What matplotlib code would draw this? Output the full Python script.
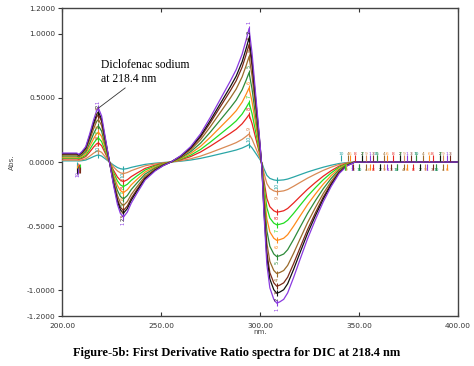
import numpy as np
import matplotlib
matplotlib.use("Agg")
import matplotlib.pyplot as plt
from matplotlib.ticker import FormatStrFormatter

# Base shape of the largest (purple) spectrum
wavelength = [200, 207.5, 208.5, 210, 212, 214, 216, 217.5, 218.4, 220, 222, 224,
              226, 228, 229.5, 231, 233, 235, 238, 242, 247, 251, 255,
              260, 265, 270, 275, 280, 285, 288, 291, 293, 294.5,
              296, 298, 300, 301, 302, 303.5, 305, 307, 308.5,
              310, 312, 314, 317, 320, 324, 328, 332, 336, 340, 344, 348, 360, 380, 400]
base_value = [0.07, 0.07, 0.06, 0.08, 0.12, 0.22, 0.33, 0.40, 0.42, 0.36, 0.18, 0.0,
              -0.18, -0.33, -0.40, -0.43, -0.39, -0.32, -0.24, -0.14, -0.07, -0.03, 0.0,
              0.05, 0.12, 0.22, 0.35, 0.49, 0.63, 0.72, 0.84, 0.95, 1.04,
              0.85, 0.50, 0.15, -0.05, -0.40, -0.80, -0.98, -1.07, -1.10,
              -1.09, -1.07, -1.02, -0.90, -0.77, -0.60, -0.45, -0.31, -0.19, -0.09, -0.03, 0.0, 0.0, 0.0, 0.0]

# Relative level of each spectrum (concentration series)
series_scale = [0.13, 0.21, 0.355, 0.445, 0.555, 0.67, 0.79, 0.88, 0.93, 1.0]
series_colors = ["#2aa6a6", "#d98a55", "#e8251f", "#22dd22", "#ff8a1a",
                 "#2e8b3a", "#9a6a2a", "#7a2a1a", "#111111", "#8a3ae0"]
series_labels = ["10", "9", "8", "7", "6", "5", "4", "3", "2", "1"]

# peak-pick positions (nm) of the extrema
extrema_nm = [218.4, 231, 294.5, 308.5]
# small dip picked at the start of the rise
dip_nm = [207.5, 208.0, 208.5, 209.0]
# small noise peaks picked along the baseline
noise_nm = [341, 343, 347, 350, 353, 356, 359, 362, 366, 369, 372, 376, 379, 383, 386, 389, 392]

fig = plt.figure(figsize=(4.74, 3.66), dpi=100)
ax = fig.add_axes([0.1308, 0.1366, 0.8352, 0.8414])

x = np.array(wavelength)
y = np.array(base_value)
for k, s in enumerate(series_scale):
    c = series_colors[k]
    ax.plot(x, y * s, color=c, lw=0.9, zorder=3 + k)
    for e in extrema_nm:
        v = np.interp(e, x, y) * s
        off = 0.03 if v > 0 else -0.03
        ax.plot([e], [v], marker="|", color=c, ms=4, mew=0.8, zorder=20)
        ax.text(e, v + off * 1.5, series_labels[k], fontsize=3.5, color=c,
                ha="center", va="center", rotation=90, zorder=20)
    d = dip_nm[k % 4]
    ax.plot([d], [-0.02 - 0.05 * s], marker="|", color=c, ms=4, mew=0.8, zorder=20)

ax.text(208.3, -0.09, "10", fontsize=3.3, color="#8a3ae0", ha="center", va="center",
        rotation=90, zorder=21)

for k, c in enumerate(series_colors):
    for j, nm in enumerate(noise_nm[k % 3::3]):
        up = (j + k) % 2 == 0
        yy = 0.035 if up else -0.035
        ax.plot([nm + 0.6 * k], [yy], marker="|", color=c, ms=5, mew=0.8, zorder=20)
        ax.text(nm + 0.6 * k, yy + (0.03 if up else -0.03), series_labels[k],
                fontsize=3.2, color=c, ha="center", va="center", zorder=20)

ax.set_xlim(200, 400)
ax.set_ylim(-1.2, 1.2)
ax.set_xticks([200, 250, 300, 350, 400])
ax.set_yticks([-1.2, -1.0, -0.5, 0.0, 0.5, 1.0, 1.2])
ax.xaxis.set_major_formatter(FormatStrFormatter("%.2f"))
ax.yaxis.set_major_formatter(FormatStrFormatter("%.4f"))
ax.tick_params(axis="x", direction="in", top=True, length=3, labelsize=5.3, pad=5, colors="#333333")
ax.tick_params(axis="y", direction="out", length=3, labelsize=5.3, pad=2, colors="#333333")
for sp in ax.spines.values():
    sp.set_color("#444444")
    sp.set_linewidth(1.0)

ax.set_xlabel("nm.", fontsize=5.2, color="#444444", labelpad=0)
ax.set_ylabel("Abs.", fontsize=5.2, color="#444444", labelpad=8)

ax.annotate("Diclofenac sodium\nat 218.4 nm", xy=(218.4, 0.42), xytext=(219.5, 0.70),
            fontsize=8.4, family="Liberation Serif", ha="left", va="center",
            arrowprops=dict(arrowstyle="-", color="#333333", lw=0.6,
                            shrinkA=0, shrinkB=0, relpos=(0.32, 0.0)),
            zorder=30)

fig.text(0.5, 0.035, "Figure-5b: First Derivative Ratio spectra for DIC at 218.4 nm",
         ha="center", va="center", fontsize=8.9, fontweight="bold", family="Liberation Serif")

fig.savefig("out.png", dpi=100)
